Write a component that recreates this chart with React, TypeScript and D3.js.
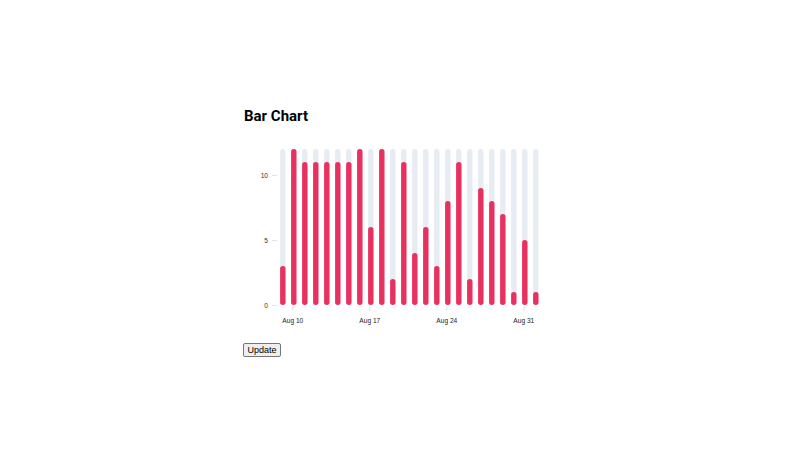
import * as React from "react"
import * as d3 from "d3"

// one value per day, starting Aug 9
const startDay = "2025-08-09"
const values = [3, 12, 11, 11, 11, 11, 11, 12, 6, 12, 2, 11, 4, 6, 3, 8, 11, 2, 9, 8, 7, 1, 5, 1]
const maxValue = 12
const yTicks = [0, 5, 10]

const parseDay = d3.timeParse("%Y-%m-%d")
const dates = values.map((_v, i) => d3.timeDay.offset(parseDay(startDay) as Date, i))

const RED = "#e8315f"
const TRACK = "#e7ecf3"

function render(svgEl: SVGSVGElement) {
  const svg = d3.select(svgEl)
  svg.selectAll("*").remove()

  const x = d3
    .scaleTime()
    .domain([dates[0], dates[dates.length - 1]])
    .range([281.3, 534.3])
  const y = d3.scaleLinear().domain([0, maxValue]).range([305, 149])

  const barW = 5.4
  const cx = (d: Date) => x(d) + 1.5

  svg
    .append("text")
    .attr("x", 244)
    .attr("y", 120.7)
    .attr("font-family", "Roboto, Inter, sans-serif")
    .attr("font-weight", 700)
    .attr("font-size", "15px")
    .attr("fill", "#000")
    .text("Bar Chart")

  // y axis
  const yAxis = svg
    .append("g")
    .attr("transform", "translate(277,0)")
    .call(d3.axisLeft(y).tickValues(yTicks).tickSize(5).tickPadding(4))
  yAxis.select(".domain").remove()
  yAxis.selectAll(".tick line").attr("stroke", "#e2e2e2")
  yAxis
    .selectAll(".tick text")
    .attr("font-family", "Arial, 'Liberation Sans', sans-serif")
    .attr("font-size", "6.6px")
    .attr("fill", "#333")

  // x axis
  const xAxis = svg
    .append("g")
    .attr("transform", "translate(0,307)")
    .call(
      d3
        .axisBottom(x)
        .ticks(d3.timeSunday)
        .tickFormat((d) => d3.timeFormat("%b %d")(d as Date))
        .tickSize(4)
        .tickPadding(7)
    )
  xAxis.select(".domain").remove()
  xAxis.selectAll(".tick line").attr("stroke", "#e2e2e2")
  xAxis
    .selectAll(".tick text")
    .attr("font-family", "Arial, 'Liberation Sans', sans-serif")
    .attr("font-size", "6.6px")
    .attr("fill", "#222")

  // background tracks
  svg
    .append("g")
    .selectAll("rect")
    .data(dates)
    .join("rect")
    .attr("x", (d) => cx(d) - barW / 2)
    .attr("y", y(maxValue))
    .attr("width", barW)
    .attr("height", y(0) - y(maxValue))
    .attr("rx", barW / 2)
    .attr("fill", TRACK)

  // value bars
  svg
    .append("g")
    .selectAll("rect")
    .data(values)
    .join("rect")
    .attr("x", (_d, i) => cx(dates[i]) - barW / 2)
    .attr("y", (d) => y(d))
    .attr("width", barW)
    .attr("height", (d) => y(0) - y(d))
    .attr("rx", barW / 2)
    .attr("fill", RED)
}

export default function App(): React.JSX.Element {
  const svgRef = React.useRef<SVGSVGElement>(null)

  React.useEffect(() => {
    if (svgRef.current) render(svgRef.current)
  }, [])

  return (
    <div style={{ position: "absolute", left: 0, top: 0, width: 800, height: 450 }}>
      <svg ref={svgRef} width={800} height={450} style={{ position: "absolute", left: 0, top: 0 }} />
      <button
        style={{
          position: "absolute",
          left: 243,
          top: 343,
          height: 14,
          width: 38,
          padding: 0,
          fontFamily: "Arial, 'Liberation Sans', sans-serif",
          fontSize: "9px",
          lineHeight: "12px",
          color: "#000",
          background: "#efefef",
          border: "1px solid #767676",
          borderRadius: 2,
        }}
      >
        Update
      </button>
    </div>
  )
}
